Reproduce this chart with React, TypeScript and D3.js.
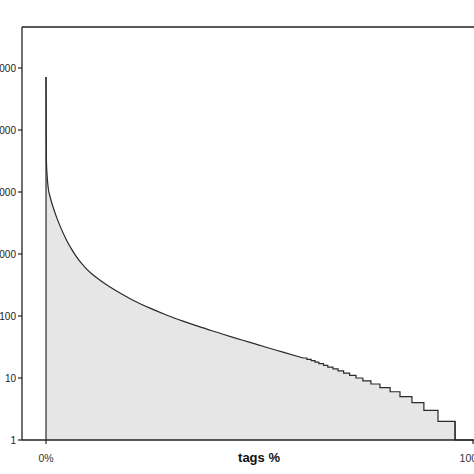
import React from "react";
import * as d3 from "d3";

// Smooth part of the rank/frequency curve: [tags %, count]
const smoothPct = [0, 0.094, 0.258, 0.49, 0.94, 1.71, 2.58, 3.68, 4.85, 6.09, 7.49, 9.13, 10.77, 12.65, 14.99, 17.33, 20.37, 24.36, 28.34, 32.08, 36.07, 40.05, 43.79, 47.78, 51.76, 55.5, 60.2];
const smoothCount = [716000, 32800, 18800, 12050, 8460, 5580, 3750, 2450, 1656, 1165, 834, 610, 476, 378, 294, 235, 180, 134, 103, 82.7, 66.7, 54.6, 45.3, 37.5, 31.0, 26.2, 21];

// Stepped tail: start % of each integer count
const stepPct = [60.2, 61.1, 62.1, 63.0, 63.9, 65.0, 66.0, 67.2, 68.4, 69.7, 71.1, 72.6, 74.2, 76.1, 78.2, 80.6, 82.9, 85.7, 88.5, 91.8, 95.8, 100];
const stepCount = [21, 20, 19, 18, 17, 16, 15, 14, 13, 12, 11, 10, 9, 8, 7, 6, 5, 4, 3, 2, 1, 1];

const yTicks = [1, 10, 100, 1000, 10000, 100000, 1000000];
const xTicks = [0, 100];
const xTickLabels = ["0%", "100%"];
const xTitle = "tags %";

export default function App() {
  const W = 474, H = 474;
  const x = d3.scaleLinear().domain([0, 100]).range([46, 473]);
  const y = d3.scaleLog().domain([1, Math.pow(10, 413 / 62)]).range([440, 27]);

  const smooth = smoothPct.map((p, i) => [p, smoothCount[i]] as [number, number]);
  const steps = stepPct.map((p, i) => [p, stepCount[i]] as [number, number]);

  const areaSmooth = d3.area<[number, number]>()
    .x(d => x(d[0])).y0(y(1)).y1(d => y(d[1])).curve(d3.curveMonotoneX);
  const areaStep = d3.area<[number, number]>()
    .x(d => x(d[0])).y0(y(1)).y1(d => y(d[1])).curve(d3.curveStepAfter);
  const lineSmooth = d3.line<[number, number]>()
    .x(d => x(d[0])).y(d => y(d[1])).curve(d3.curveMonotoneX);
  const lineStep = d3.line<[number, number]>()
    .x(d => x(d[0])).y(d => y(d[1])).curve(d3.curveStepAfter);

  const fill = "#e6e6e6";
  const stroke = "#2a2a2a";
  const font = "Liberation Sans, Arial, Helvetica, sans-serif";

  return (
    <svg width={W} height={H} style={{ position: "absolute", left: 0, top: 0 }} fontFamily={font}>
      <rect width={W} height={H} fill="#fff" />
      <path d={areaSmooth(smooth) || ""} fill={fill} />
      <path d={areaStep(steps) || ""} fill={fill} />
      <line x1={x(0)} x2={x(0)} y1={y(1)} y2={y(smoothCount[0])} stroke={stroke} strokeWidth={1.2} />
      <path d={lineSmooth(smooth) || ""} fill="none" stroke={stroke} strokeWidth={1.2} />
      <path d={lineStep(steps) || ""} fill="none" stroke={stroke} strokeWidth={1.2} />
      <line x1={x(95.8)} x2={x(95.8)} y1={y(2)} y2={y(1)} stroke={stroke} strokeWidth={1.2} />
      {/* frame */}
      <line x1={22} x2={W} y1={27} y2={27} stroke="#222" strokeWidth={1.3} />
      <line x1={22} x2={22} y1={27} y2={440} stroke="#222" strokeWidth={1.3} />
      <line x1={22} x2={W} y1={440} y2={440} stroke="#222" strokeWidth={1.3} />
      {/* y ticks */}
      {yTicks.map(t => (
        <g key={t}>
          <line x1={18} x2={22} y1={y(t)} y2={y(t)} stroke="#222" strokeWidth={1.2} />
          <text x={16} y={y(t)} dy="0.35em" textAnchor="end" fontSize={10} fill="#222">{t}</text>
        </g>
      ))}
      {/* x ticks */}
      {xTicks.map((t, i) => (
        <g key={t}>
          <line x1={x(t)} x2={x(t)} y1={440} y2={444} stroke="#222" strokeWidth={1.2} />
          <text x={x(t)} y={462} textAnchor="middle" fontSize={10.5} fill="#333">{xTickLabels[i]}</text>
        </g>
      ))}
      <text x={259} y={462} textAnchor="middle" fontSize={13} fontWeight="bold" fill="#111">{xTitle}</text>
    </svg>
  );
}
